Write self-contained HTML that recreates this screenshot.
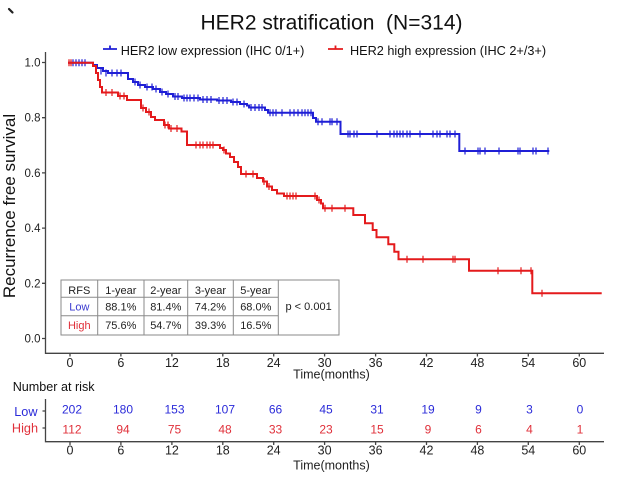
<!DOCTYPE html>
<html><head><meta charset="utf-8"><style>
html,body{margin:0;padding:0;background:#fff;}
svg{display:block;font-family:"Liberation Sans",Arial,sans-serif;}
</style></head><body>
<svg width="618" height="488" viewBox="0 0 618 488" xmlns="http://www.w3.org/2000/svg">
<rect width="618" height="488" fill="#fff"/>
<path d="M9,9 L12.5,12.5" stroke="#222" stroke-width="2.2" stroke-linecap="round"/>
<!-- title -->
<text x="331.5" y="29.5" font-size="21" text-anchor="middle" fill="#111">HER2 stratification&#160; (N=314)</text>
<!-- legend -->
<g stroke-width="1.8">
<path d="M103,49 H117 M110,45.5 V49" stroke="#1f1fd6"/>
<path d="M328,49 H343 M335.5,45.5 V49" stroke="#e41a1c"/>
</g>
<text x="120.7" y="55" font-size="12.7" fill="#111">HER2 low expression (IHC 0/1+)</text>
<text x="350" y="55" font-size="12.7" fill="#111">HER2 high expression (IHC 2+/3+)</text>
<!-- y axis -->
<g stroke="#444" stroke-width="1.3" fill="none">
<path d="M45.5,52 V353.3 H604"/>
<path d="M42,62.5 H45.5 M42,117.7 H45.5 M42,172.9 H45.5 M42,228.1 H45.5 M42,283.3 H45.5 M42,338.5 H45.5"/>
<path d="M70,353 v3.5 M120.9,353 v3.5 M171.9,353 v3.5 M222.8,353 v3.5 M273.7,353 v3.5 M324.6,353 v3.5 M375.6,353 v3.5 M426.5,353 v3.5 M477.4,353 v3.5 M528.3,353 v3.5 M579.3,353 v3.5"/>
</g>
<g font-size="11.5" fill="#222" text-anchor="end">
<text x="40.5" y="66.5">1.0</text>
<text x="40.5" y="121.7">0.8</text>
<text x="40.5" y="176.9">0.6</text>
<text x="40.5" y="232.1">0.4</text>
<text x="40.5" y="287.3">0.2</text>
<text x="40.5" y="342.5">0.0</text>
</g>
<text transform="translate(15,206) rotate(-90)" font-size="17" text-anchor="middle" fill="#111">Recurrence free survival</text>
<g font-size="12.5" fill="#222" text-anchor="middle">
<text x="70" y="367">0</text>
<text x="120.9" y="367">6</text>
<text x="171.9" y="367">12</text>
<text x="222.8" y="367">18</text>
<text x="273.7" y="367">24</text>
<text x="324.6" y="367">30</text>
<text x="375.6" y="367">36</text>
<text x="426.5" y="367">42</text>
<text x="477.4" y="367">48</text>
<text x="528.3" y="367">54</text>
<text x="579.3" y="367">60</text>
<text x="331.5" y="378.5">Time(months)</text>
</g>
<!-- curves -->
<g fill="none" stroke-width="2">
<path stroke="#1f1fd6" d="M68,62.7 H93 V65 H97 V68 H103 V71 H108 V73 H128 V79 H133 V82 H138 V85 H145 V87 H153 V89 H160 V92 H166 V94 H173 V96.5 H182 V98 H200 V99.5 H217 V100.5 H231 V102 H240 V104 H247 V105.5 H249 V107.5 H265 V110 H268 V112.7 H313 V118 H316 V121.7 H340.5 V134 H459.3 V151 H549.3"/>
<path stroke="#1f1fd6" stroke-width="1.2" d="M73,59.2v7M76,59.2v7M79,59.2v7M82,59.2v7M85,59.2v7M101,67.5v7M106,69.5v7M112,69.5v7M117,69.5v7M121,69.5v7M135,78.5v7M140,81.5v7M147,83.5v7M152,83.5v7M156,85.5v7M162,88.5v7M168,90.5v7M175,93v7M178,93v7M184,94.5v7M187,94.5v7M190,94.5v7M194,94.5v7M198,94.5v7M203,96v7M207,96v7M211,96v7M219,97v7M223,97v7M227,97v7M233,98.5v7M237,98.5v7M244,100.5v7M251,104v7M255,104v7M259,104v7M262,104v7M270,109.2v7M273,109.2v7M276,109.2v7M282,109.2v7M290,109.2v7M294,109.2v7M298,109.2v7M302,109.2v7M305,109.2v7M308,109.2v7M311,109.2v7M318,118.2v7M322,118.2v7M330,118.2v7M332,118.2v7M337,118.2v7M348,130.5v7M350,130.5v7M354,130.5v7M357,130.5v7M377,130.5v7M390,130.5v7M394,130.5v7M397,130.5v7M400,130.5v7M403,130.5v7M407,130.5v7M410,130.5v7M420,130.5v7M433,130.5v7M437,130.5v7M440,130.5v7M447,130.5v7M450,130.5v7M455,130.5v7M465,147.5v7M478,147.5v7M480,147.5v7M485,147.5v7M499,147.5v7M518,147.5v7M520,147.5v7M533,147.5v7M536,147.5v7M548,147.5v7"/>
<path stroke="#e41a1c" d="M68,62.7 H93 V66 H96 V73 H98 V80 H100 V87 H102 V92.5 H118 V96 H127 V100 H141 V108 H146 V112 H151 V117 H155 V120 H164 V125 H169 V128.5 H181.5 V131.5 H187 V145 H220 V148 H223 V150 H226 V153.5 H230 V157 H234 V162 H238 V167 H241 V174 H257 V178 H263 V181.5 H267 V186.5 H272 V190 H277 V193.5 H284 V196 H317 V200 H321 V203.5 H323 V208.3 H353.3 V215 H365 V223.3 H372.7 V230 H376.5 V237.3 H388.3 V244.3 H394.3 V251.7 H398.5 V259.3 H469 V270.7 H532.3 V293.3 H601.7"/>
<path stroke="#e41a1c" stroke-width="1.2" d="M69,59.2v7M71,59.2v7M106,89v7M112,89v7M120,92.5v7M124,92.5v7M143,104.5v7M149,108.5v7M165,121.5v7M168,121.5v7M171,125v7M177,125v7M196,141.5v7M200,141.5v7M203,141.5v7M207,141.5v7M210,141.5v7M213,141.5v7M224,146.5v7M246,170.5v7M253,170.5v7M264,178v7M269,183v7M287,192.5v7M290,192.5v7M293,192.5v7M296,192.5v7M315,192.5v7M319,196.5v7M325,204.8v7M332,204.8v7M345,204.8v7M407,255.8v7M423,255.8v7M453,255.8v7M455,255.8v7M498,267.2v7M521,267.2v7M531,267.2v7M542,289.8v7"/>
</g>
<!-- table -->
<rect x="61" y="280" width="278" height="55" fill="#fff" stroke="#8a8a8a" stroke-width="1"/>
<g stroke="#8a8a8a" stroke-width="1" fill="none">
<path d="M61,297.3 H278.3 M61,315.7 H278.3 M97.7,280 V335 M144,280 V335 M187.7,280 V335 M233.3,280 V335 M278.3,280 V335"/>
</g>
<g font-size="11" text-anchor="middle" fill="#222">
<text x="79.3" y="294">RFS</text>
<text x="120.8" y="294">1-year</text>
<text x="165.8" y="294">2-year</text>
<text x="210.5" y="294">3-year</text>
<text x="255.8" y="294">5-year</text>
<text x="79.3" y="310.7" fill="#3a3ad0">Low</text>
<text x="120.8" y="310.7">88.1%</text>
<text x="165.8" y="310.7">81.4%</text>
<text x="210.5" y="310.7">74.2%</text>
<text x="255.8" y="310.7">68.0%</text>
<text x="79.3" y="329" fill="#e0303a">High</text>
<text x="120.8" y="329">75.6%</text>
<text x="165.8" y="329">54.7%</text>
<text x="210.5" y="329">39.3%</text>
<text x="255.8" y="329">16.5%</text>
<text x="308.6" y="310">p &lt; 0.001</text>
</g>
<!-- risk table -->
<text x="12.7" y="391" font-size="12.6" fill="#111">Number at risk</text>
<g font-size="12.7" text-anchor="end">
<text x="37.5" y="416" fill="#2b2bd9">Low</text>
<text x="38" y="432.5" fill="#e0303a">High</text>
</g>
<g stroke="#444" stroke-width="1.3" fill="none">
<path d="M45.5,399 V441.7 H604"/>
<path d="M42.5,411 H45.5 M42.5,428 H45.5"/>
<path d="M70,441.5 v3.5 M120.9,441.5 v3.5 M171.9,441.5 v3.5 M222.8,441.5 v3.5 M273.7,441.5 v3.5 M324.6,441.5 v3.5 M375.6,441.5 v3.5 M426.5,441.5 v3.5 M477.4,441.5 v3.5 M528.3,441.5 v3.5 M579.3,441.5 v3.5"/>
</g>
<g font-size="12" text-anchor="middle" fill="#2b2bd9">
<text x="72" y="413.6">202</text>
<text x="123" y="413.6">180</text>
<text x="174.5" y="413.6">153</text>
<text x="225" y="413.6">107</text>
<text x="275.5" y="413.6">66</text>
<text x="326" y="413.6">45</text>
<text x="377" y="413.6">31</text>
<text x="428" y="413.6">19</text>
<text x="478.5" y="413.6">9</text>
<text x="529.5" y="413.6">3</text>
<text x="580" y="413.6">0</text>
</g>
<g font-size="12" text-anchor="middle" fill="#e0303a">
<text x="72" y="433.6">112</text>
<text x="123" y="433.6">94</text>
<text x="174.5" y="433.6">75</text>
<text x="225" y="433.6">48</text>
<text x="275.5" y="433.6">33</text>
<text x="326" y="433.6">23</text>
<text x="377" y="433.6">15</text>
<text x="428" y="433.6">9</text>
<text x="478.5" y="433.6">6</text>
<text x="529.5" y="433.6">4</text>
<text x="580" y="433.6">1</text>
</g>
<g font-size="12.5" fill="#222" text-anchor="middle">
<text x="70" y="454.5">0</text>
<text x="120.9" y="454.5">6</text>
<text x="171.9" y="454.5">12</text>
<text x="222.8" y="454.5">18</text>
<text x="273.7" y="454.5">24</text>
<text x="324.6" y="454.5">30</text>
<text x="375.6" y="454.5">36</text>
<text x="426.5" y="454.5">42</text>
<text x="477.4" y="454.5">48</text>
<text x="528.3" y="454.5">54</text>
<text x="579.3" y="454.5">60</text>
<text x="331.5" y="469.5">Time(months)</text>
</g>
</svg>
</body></html>
